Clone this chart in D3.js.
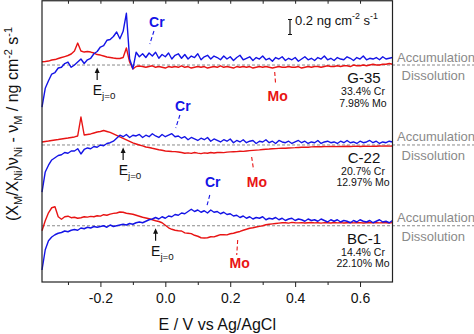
<!DOCTYPE html>
<html><head><meta charset="utf-8">
<script src="https://cdn.jsdelivr.net/npm/d3@7"></script>
<style>body{margin:0;background:#fff}svg{display:block}text{font-family:"Liberation Sans",Arial,sans-serif}</style>
</head><body><svg id="c" width="474" height="334"></svg>
<script>
// potential grid (V vs Ag/AgCl), 10 mV steps from -0.38 to 0.70
const potential = d3.range(109).map(i => Math.round((-0.38 + i * 0.01) * 100) / 100);
const samples = ["G-35", "C-22", "BC-1"];
const crContent = ["33.4% Cr", "20.7% Cr", "14.4% Cr"];
const moContent = ["7.98% Mo", "12.97% Mo", "22.10% Mo"];
const panelOffset = [2.143, 1.077, 0];   // ng cm-2 s-1 vertical offsets
const ejZero = [-0.21, -0.13, -0.03];     // E(j=0) per sample
const xTicks = [-0.2, 0.0, 0.2, 0.4, 0.6];
const xMinorTicks = [-0.3, -0.1, 0.1, 0.3, 0.5];

const g35Cr = [-0.56,-0.31,-0.21,-0.12,-0.10,-0.04,-0.03,0.02,0.04,-0.03,
 0.00,0.04,0.08,0.02,0.07,0.09,0.15,0.18,0.24,0.26,
 0.33,0.34,0.38,0.44,0.35,0.45,0.69,0.08,-0.05,0.17,
 0.11,0.15,0.10,0.16,0.12,0.17,0.09,0.14,0.11,0.16,
 0.08,0.13,0.15,0.09,0.14,0.08,0.12,0.10,0.15,0.07,
 0.11,0.13,0.08,0.12,0.10,0.07,0.12,0.08,0.11,0.06,
 0.10,0.13,0.07,0.09,0.11,0.06,0.10,0.08,0.12,0.07,
 0.09,0.05,0.10,0.08,0.11,0.06,0.09,0.07,0.10,0.05,
 0.08,0.11,0.07,0.09,0.06,0.10,0.08,0.12,0.07,0.09,
 0.06,0.10,0.08,0.07,0.11,0.09,0.06,0.10,0.08,0.12,
 0.07,0.09,0.08,0.10,0.07,0.11,0.08,0.09,0.10];
const g35Mo = [0.044,0.047,0.053,0.067,0.073,0.087,0.10,0.113,0.127,0.147,
 0.187,0.293,0.187,0.173,0.18,0.173,0.16,0.14,0.133,0.12,
 0.107,0.10,0.093,0.087,0.087,0.10,0.227,0.04,-0.053,-0.02,
 -0.013,-0.02,-0.03,-0.02,-0.01,-0.03,-0.02,-0.03,-0.04,-0.02,
 -0.03,-0.02,-0.03,-0.01,-0.03,-0.02,-0.04,-0.03,-0.02,-0.03,
 -0.02,-0.04,-0.03,-0.02,-0.03,-0.01,-0.03,-0.02,-0.03,-0.04,
 -0.02,-0.03,-0.02,-0.03,-0.02,-0.04,-0.03,-0.02,-0.03,-0.02,
 -0.03,-0.04,-0.03,-0.02,-0.03,-0.03,-0.02,-0.03,-0.03,-0.02,
 -0.04,-0.03,-0.02,-0.03,-0.02,-0.02,-0.03,-0.02,-0.01,-0.02,
 -0.02,-0.01,-0.02,-0.01,-0.01,-0.02,0.00,-0.01,-0.01,0.00,
 -0.01,0.00,0.01,0.00,0.00,0.01,0.01,0.02,0.01];
const c22Cr = [-0.63,-0.36,-0.27,-0.20,-0.17,-0.14,-0.13,-0.10,-0.11,-0.08,
 -0.08,-0.05,-0.12,-0.06,-0.04,-0.05,-0.02,-0.03,0.00,-0.01,
 0.02,0.03,0.05,0.09,0.13,0.11,0.14,0.10,0.13,0.12,
 0.14,0.10,0.13,0.11,0.15,0.12,0.10,0.14,0.11,0.13,
 0.15,0.11,0.12,0.09,0.11,0.07,0.10,0.08,0.06,0.09,
 0.07,0.10,0.05,0.08,0.06,0.04,0.07,0.05,0.08,0.03,
 0.06,0.04,0.07,0.03,0.05,0.06,0.02,0.05,0.04,0.07,
 0.03,0.05,0.02,0.06,0.04,0.03,0.05,0.02,0.04,0.06,
 0.03,0.05,0.02,0.04,0.03,0.06,0.02,0.04,0.05,0.03,
 0.04,0.02,0.05,0.03,0.06,0.03,0.04,0.02,0.05,0.03,
 0.04,0.06,0.03,0.05,0.02,0.04,0.03,0.05,0.04];
const c22Mo = [0.04,0.047,0.053,0.06,0.067,0.073,0.08,0.087,0.093,0.10,
 0.107,0.12,0.373,0.133,0.14,0.147,0.16,0.173,0.18,0.193,
 0.18,0.167,0.147,0.127,0.107,0.087,0.067,0.047,0.027,0.013,
 0.0,-0.013,-0.027,-0.033,-0.044,-0.053,-0.063,-0.071,-0.08,-0.083,
 -0.087,-0.089,-0.093,-0.10,-0.11,-0.105,-0.112,-0.10,-0.108,-0.115,
 -0.105,-0.11,-0.10,-0.107,-0.10,-0.098,-0.102,-0.095,-0.092,-0.09,
 -0.088,-0.083,-0.085,-0.08,-0.076,-0.072,-0.068,-0.066,-0.06,-0.057,
 -0.054,-0.05,-0.048,-0.046,-0.044,-0.044,-0.04,-0.038,-0.036,-0.033,
 -0.03,-0.028,-0.03,-0.025,-0.023,-0.022,-0.024,-0.02,-0.022,-0.018,
 -0.02,-0.022,-0.018,-0.02,-0.017,-0.02,-0.018,-0.015,-0.02,-0.017,
 -0.016,-0.018,-0.015,-0.017,-0.014,-0.016,-0.013,-0.015,-0.014];
const bc1Cr = [-0.59,-0.32,-0.20,-0.15,-0.12,-0.10,-0.09,-0.07,-0.08,-0.06,
 -0.05,-0.06,-0.03,-0.04,-0.02,-0.03,-0.01,-0.02,-0.01,0.00,
 -0.02,0.01,-0.01,0.00,0.01,0.02,0.01,0.03,0.02,0.04,
 0.05,0.04,0.06,0.08,0.09,0.11,0.09,0.12,0.10,0.13,
 0.12,0.15,0.14,0.17,0.16,0.19,0.22,0.19,0.21,0.18,
 0.20,0.17,0.21,0.18,0.19,0.16,0.18,0.15,0.16,0.13,
 0.14,0.11,0.13,0.10,0.12,0.09,0.11,0.10,0.12,0.08,
 0.10,0.09,0.11,0.08,0.10,0.07,0.09,0.10,0.07,0.09,
 0.08,0.06,0.09,0.07,0.08,0.06,0.09,0.07,0.05,0.08,
 0.06,0.08,0.05,0.07,0.06,0.04,0.07,0.05,0.08,0.06,
 0.05,0.07,0.04,0.06,0.08,0.05,0.06,0.04,0.07];
const bc1Mo = [-0.067,0.067,0.173,0.24,0.253,0.12,0.087,0.12,0.127,0.107,
 0.113,0.10,0.107,0.12,0.115,0.125,0.12,0.133,0.128,0.147,
 0.14,0.155,0.165,0.17,0.183,0.18,0.167,0.16,0.153,0.14,
 0.127,0.113,0.103,0.093,0.08,0.067,0.057,0.04,0.007,-0.027,
 -0.047,-0.06,-0.067,-0.07,-0.095,-0.10,-0.105,-0.127,-0.14,-0.16,
 -0.164,-0.16,-0.147,-0.148,-0.133,-0.118,-0.12,-0.122,-0.107,-0.10,
 -0.087,-0.076,-0.06,-0.047,-0.033,-0.027,-0.017,-0.009,0.0,0.013,
 0.02,0.025,0.03,0.035,0.04,0.04,0.035,0.045,0.04,0.038,
 0.042,0.036,0.04,0.044,0.038,0.04,0.035,0.042,0.04,0.037,
 0.043,0.039,0.041,0.036,0.04,0.044,0.038,0.04,0.042,0.037,
 0.04,0.043,0.038,0.041,0.039,0.042,0.04,0.037,0.041];
const crSeries = [g35Cr, c22Cr, bc1Cr];
const moSeries = [g35Mo, c22Mo, bc1Mo];

// annotation label anchors (E, value) and leader ends
const crLabelE = [-0.026, 0.054, 0.146];
const crLabelV = [2.65, 1.53, 0.517];
const crLeader = [[-0.035, 2.597, -0.048, 2.423], [0.045, 1.477, 0.032, 1.303], [0.137, 0.41, 0.128, 0.263]];
const moLabelE = [0.346, 0.282, 0.229];
const moLabelV = [1.663, 0.517, -0.563];
const moLeader = [[0.337, 2.05, 0.34, 1.877], [0.266, 0.917, 0.272, 0.743], [0.223, -0.19, 0.22, -0.39]];

const BLUE = "#1414e6", RED = "#e81414", GRAY = "#8a8a8a";
const svg = d3.select("#c");
const x = d3.scaleLinear().domain([-0.38, 0.70]).range([42, 392.5]);
const y = d3.scaleLinear().domain([-0.75, 3.0]).range([282, 0.75]);

function rich(sel, parts) {
  let shift = 0;
  parts.forEach(p => {
    const target = p.s === "sub" ? 4 : p.s === "sup" ? -6 : 0;
    const t = sel.append("tspan").text(p.t).attr("dy", target - shift);
    if (p.s) t.attr("font-size", p.fs || "0.68em");
    shift = target;
  });
}

// baselines
samples.forEach((s, k) => {
  svg.append("line").attr("x1", x(-0.38)).attr("x2", 474)
    .attr("y1", y(panelOffset[k])).attr("y2", y(panelOffset[k]))
    .attr("stroke", GRAY).attr("stroke-width", 1).attr("stroke-dasharray", "3,2");
});

const line = off => d3.line().x((d, i) => x(potential[i])).y(d => y(d + off));
samples.forEach((s, k) => {
  svg.append("path").datum(moSeries[k]).attr("d", line(panelOffset[k]))
    .attr("fill", "none").attr("stroke", RED).attr("stroke-width", 1.4).attr("stroke-linejoin", "round");
  svg.append("path").datum(crSeries[k]).attr("d", line(panelOffset[k]))
    .attr("fill", "none").attr("stroke", BLUE).attr("stroke-width", 1.4).attr("stroke-linejoin", "round");
});

// frame
svg.append("rect").attr("x", 42).attr("y", 0.75).attr("width", 350.5).attr("height", 281.25)
  .attr("fill", "none").attr("stroke", "#222").attr("stroke-width", 1.2);

// axes
const fmt = v => (v < 0 ? "-" : "") + Math.abs(v).toFixed(1);
const bAxis = svg.append("g").attr("transform", "translate(0,282)")
  .call(d3.axisBottom(x).tickValues(xTicks).tickFormat(fmt).tickSize(5).tickPadding(6));
svg.append("g").attr("transform", "translate(0,282)")
  .call(d3.axisBottom(x).tickValues(xMinorTicks).tickFormat("").tickSize(3));
svg.append("g").attr("transform", "translate(0,0.75)")
  .call(d3.axisBottom(x).tickValues(xTicks.concat(xMinorTicks)).tickFormat("").tickSize(3));
svg.selectAll(".domain").remove();
svg.selectAll(".tick line").attr("stroke", "#222");
bAxis.selectAll("text").attr("font-size", 14).attr("fill", "#111")
  .style("font-family", '"Liberation Sans",Arial,sans-serif');

svg.append("text").attr("x", x(0.16)).attr("y", 330).attr("text-anchor", "middle")
  .attr("font-size", 16).attr("fill", "#111").text("E / V vs Ag/AgCl");

const yt = svg.append("text").attr("transform", "translate(18,124) rotate(-90)")
  .attr("text-anchor", "middle").attr("font-size", 16).attr("fill", "#111");
rich(yt, [{t: "(X"}, {t: "M", s: "sub"}, {t: "/X"}, {t: "Ni", s: "sub"}, {t: ")\u03bd"}, {t: "Ni", s: "sub"},
  {t: " - \u03bd"}, {t: "M", s: "sub"}, {t: " / ng cm"}, {t: "-2", s: "sup"}, {t: " s"}, {t: "-1", s: "sup"}]);

// scale bar 0.2 ng cm-2 s-1
const sbTop = y(2.75), sbBot = y(2.55), sbX = 290;
svg.append("path").attr("d", `M${sbX - 2},${sbTop}H${sbX + 2}M${sbX},${sbTop}V${sbBot}M${sbX - 2},${sbBot}H${sbX + 2}`)
  .attr("stroke", "#111").attr("stroke-width", 1.2).attr("fill", "none");
const sbt = svg.append("text").attr("x", 295).attr("y", 25).attr("font-size", 13).attr("fill", "#111");
rich(sbt, [{t: "0.2 ng cm"}, {t: "-2", s: "sup"}, {t: " s"}, {t: "-1", s: "sup"}]);

samples.forEach((s, k) => {
  const b = y(panelOffset[k]);
  svg.append("text").attr("x", 397).attr("y", b - 3.5).attr("font-size", 13).attr("fill", GRAY).text("Accumulation");
  svg.append("text").attr("x", 401.5).attr("y", b + 15).attr("font-size", 13).attr("fill", GRAY).text("Dissolution");
  svg.append("text").attr("x", 364).attr("y", b + 18).attr("text-anchor", "middle").attr("font-size", 15).attr("fill", "#111").text(s);
  svg.append("text").attr("x", 363).attr("y", b + 30).attr("text-anchor", "middle").attr("font-size", 10.5).attr("fill", "#111").text(crContent[k]);
  svg.append("text").attr("x", 363).attr("y", b + 41.5).attr("text-anchor", "middle").attr("font-size", 10.5).attr("fill", "#111").text(moContent[k]);
  const ax = x(ejZero[k]);
  svg.append("path").attr("d", `M${ax},${b + 15}V${b + 5}`).attr("stroke", "#111").attr("stroke-width", 1.2);
  svg.append("path").attr("d", `M${ax - 2.5},${b + 8}L${ax},${b + 2.5}L${ax + 2.5},${b + 8}Z`).attr("fill", "#111");
  const et = svg.append("text").attr("x", ax - 4.5).attr("y", b + 30).attr("font-size", 14).attr("fill", "#111");
  rich(et, [{t: "E"}, {t: "j=0", s: "sub", fs: "0.7em"}]);
  svg.append("text").attr("x", x(crLabelE[k])).attr("y", y(crLabelV[k])).attr("text-anchor", "middle")
    .attr("font-size", 14).attr("font-weight", "bold").attr("fill", BLUE).text("Cr");
  svg.append("text").attr("x", x(moLabelE[k])).attr("y", y(moLabelV[k])).attr("text-anchor", "middle")
    .attr("font-size", 14).attr("font-weight", "bold").attr("fill", RED).text("Mo");
  const cl = crLeader[k], ml = moLeader[k];
  svg.append("line").attr("x1", x(cl[0])).attr("y1", y(cl[1])).attr("x2", x(cl[2])).attr("y2", y(cl[3]))
    .attr("stroke", BLUE).attr("stroke-width", 1.1).attr("stroke-dasharray", "4,2.5");
  svg.append("line").attr("x1", x(ml[0])).attr("y1", y(ml[1])).attr("x2", x(ml[2])).attr("y2", y(ml[3]))
    .attr("stroke", RED).attr("stroke-width", 1.1).attr("stroke-dasharray", "4,2.5");
});
</script></body></html>
